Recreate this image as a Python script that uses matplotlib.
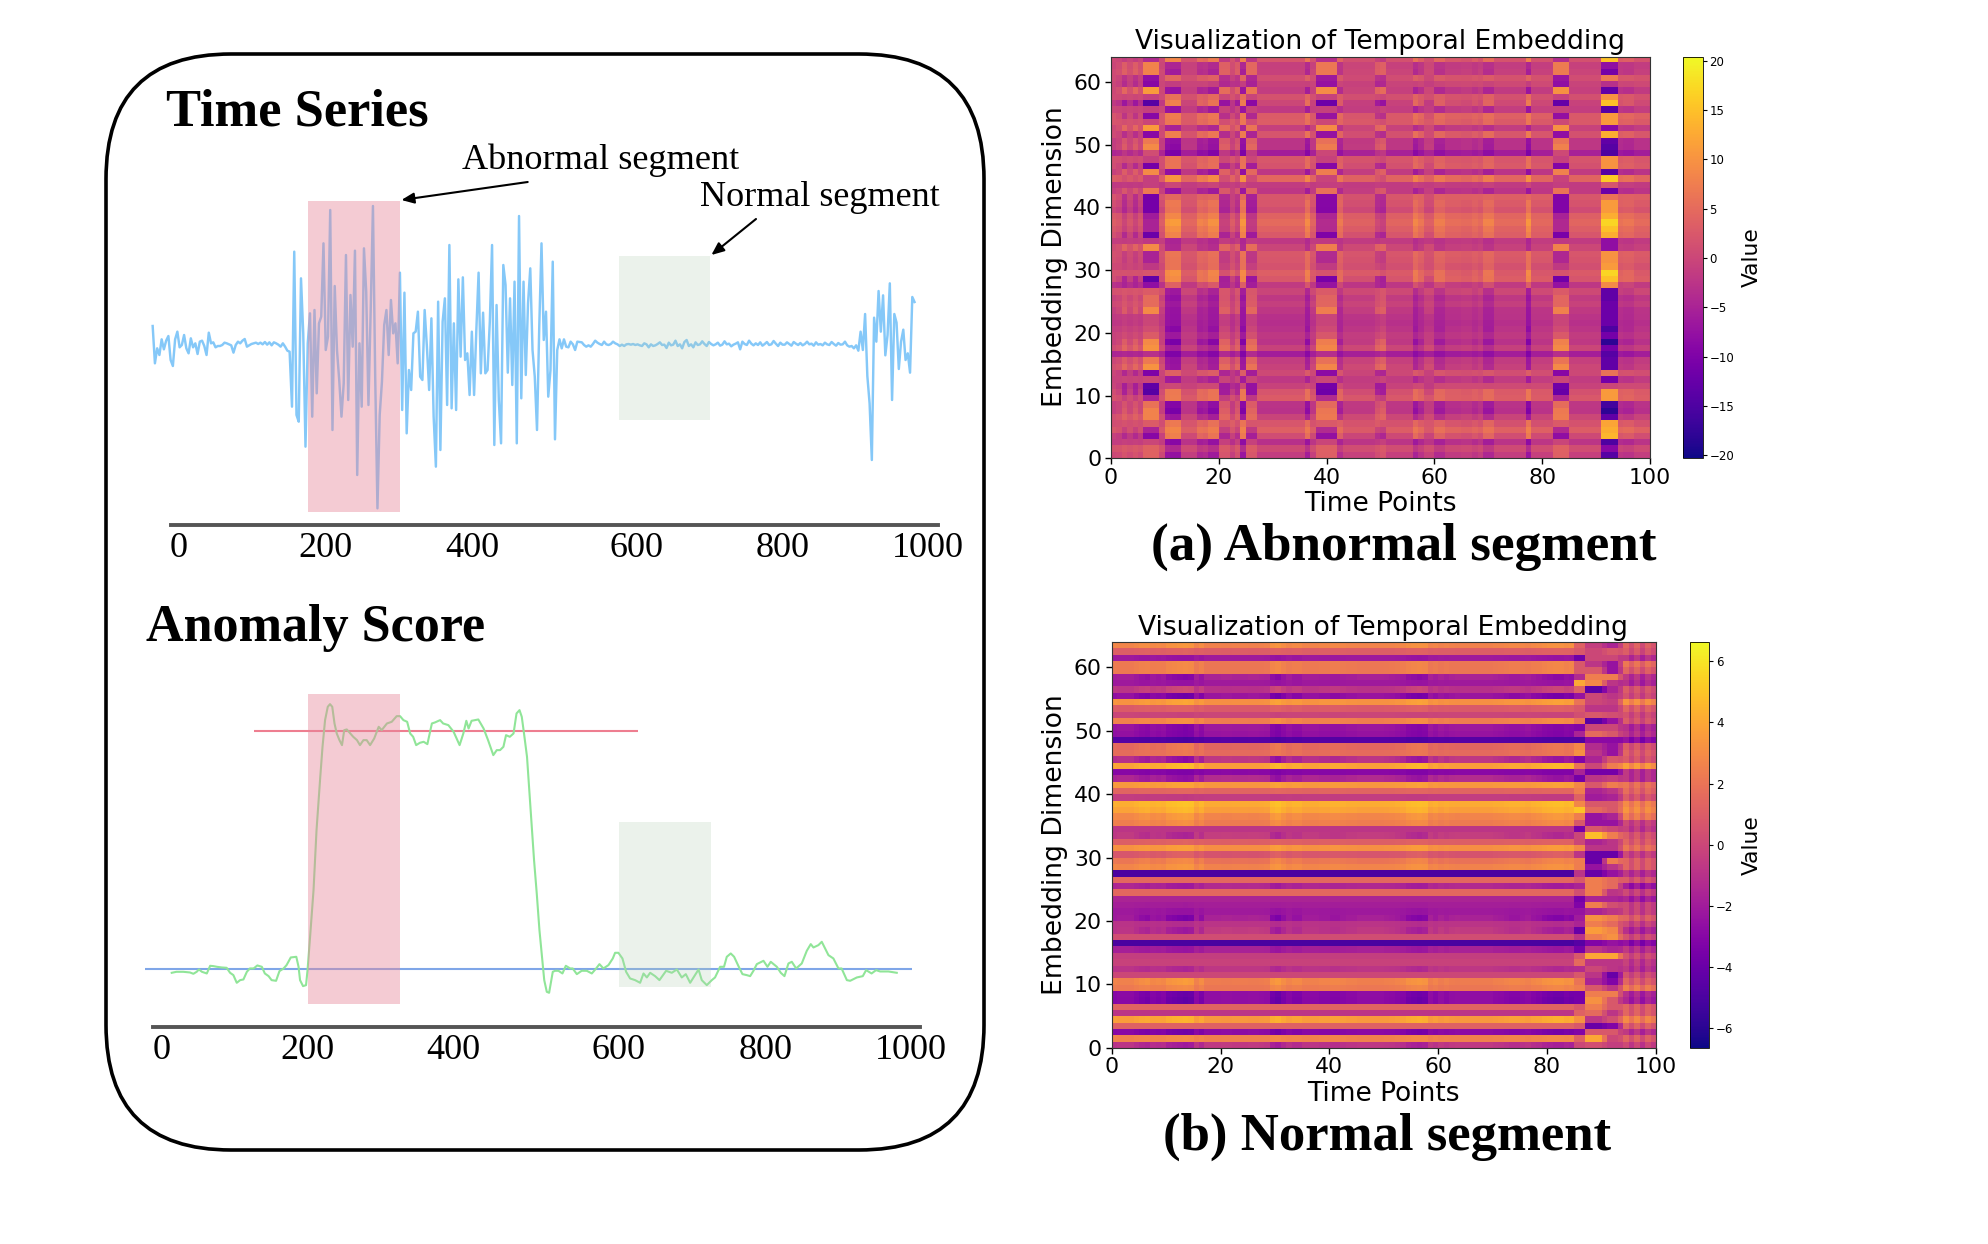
import numpy as np
import matplotlib
matplotlib.use("Agg")
import matplotlib.pyplot as plt
from matplotlib.patches import FancyBboxPatch, Rectangle

W, H = 1988, 1244
SERIF = "Liberation Serif"

# ---------- time series (arbitrary signal units) ----------
ts_quiet_start = [52,-60,-15,-35,12,-18,8,22,-50,-68,12,35,-12,-5,25,-15,-30,15,-12,0,-32,5,8,-8,-35,32,0,3,-12,-8,
                  -8,-5,2,0,-3,-6,-28,-5,5,0,8,13,-10,-6,-2,0,2,-2,2,-3,4,-4,3,-6,3,0,-4,-10,0,-10,-22,-25]
ts_burst_a = [-190,275,-215,-235,195,30,-310,0,90,-220,100,-150,60,80,300,-20,20,400,-260,172,-20,-110,-220,-120,265,
              -170,145,-10,278,-395,0,-190,285,155,-185,100,412,-100,-495,-215,-115,55,100,-35,130,30,60,-60]
ts_burst_b = [212,-200,152,-270,-80,-140,30,35,95,-100,-110,100,-10,-140,75,-220,-370,125,-320,65,135,-185,295,-195,60,
              -200,192,-40,198,-50,-30,-155,35,-155,40,212,-90,92,-90,-80,65,295,-305,115,-170,-300,235,175,-88,135,
              -125,185,-300,382,-165,185,-95,120,225,-20,-100,-260,50,300,10,95,-160,-80,245,-288,-20,12]
ts_quiet_mid = [-15,12,-10,-12,5,-3,-20,5,4,3,-5,-10,-6,-10,-2,8,2,-2,-5,5,-3,-5,-2,5,0,-3,-8,-4,-8,-3,
                -2,-4,-2,-5,-3,-6,-8,0,-3,-12,-3,-8,-6,-2,3,-5,-4,-14,2,-6,-4,8,-8,-3,-15,4,10,-8,-3,-12,
                3,-5,-3,6,-2,-8,4,-2,-6,-3,2,-7,-4,6,-3,-1,-9,-4,-1,3,-18,5,-2,-5,8,-1,-6,0,-5,3,
                -7,-2,4,-5,-3,7,-1,-8,2,-4,-4,3,-2,-7,4,-1,-5,1,-6,-2,5,-3,-1,-7,3,-4,-2,-6,2,-3,
                -5,4,-2,-7,1,-4,-3,5,-6,-10,-8,-15,-6,-22]
ts_burst_c = [35,-20,88,-98,-180,-350,77,5,157,35,144,-36,25,180,-170,88,62,-77,5,41,-50,-30,-88,139,124]

# ---------- anomaly score ----------
score_t = [13.7,20,29,38,42.6,47,50,54,60.5,65,69.4,74,80.5,87,91.6,96,100.5,105,109.4,114,118,123,128,134,138,143,147,
           153,157.5,163,167,172.6,180,183,185,189,193,195,198.4,203,207,212,215,218.4,222,225,228,231,234,237.6,241,
           244,247.4,252,256,261,265,269.6,274,278.5,284,290,294,301,307.4,314,318.5,323,328,332,336,340,345,350,355,
           361,365,372,376,383,390,394,398,403,407,410,414,423,430,436,443,447.6,452,456.5,460,465,470,474,478,481,484,
           488,491,494,497.4,501,504.6,508,511,514.4,517.5,522.4,525.5,530,535.3,539.8,545.6,549,554.5,561,567.8,574.5,
           580.3,584.7,590,596.7,602.5,605.6,610,615.4,620.3,625.6,632.3,639,643.5,648,652.4,659,664.8,673.7,681.3,688,
           694.6,700,705.8,717,721.3,728,734.7,739,745.8,751,754.7,760,764.5,770.3,775.6,781.4,785.9,790.3,794.8,803.7,
           809,813.4,821.5,826.8,831.7,837,841.5,847.3,854.8,861.5,866.8,870.4,877,881.5,886,890.4,897,903.8,908,915,
           919.4,928.3,936.3,940.7,948,954,959.4,970.5,981.6]
score_v = [-12,-9,-9,-11,-15,-9,-2,-9,-14,9,8,6,4,3,-12,-19,-42,-34,-32,-9,1,1,10,6,-14,-22,-34,-36,-7,1,11,34,36,6,-34,
           -52,-49,-4,96,236,416,576,666,746,786,794,786,736,706,686,671,716,718,706,696,686,671,686,686,671,691,726,
           716,736,741,758,758,746,741,706,696,671,678,681,674,736,739,746,736,731,711,691,671,706,744,721,744,748,721,
           686,641,656,656,666,701,696,706,766,776,756,706,636,536,436,326,226,116,36,-34,-69,-72,-9,-6,-6,-14,9,1,1,-16,
           -6,-6,-14,1,14,1,11,31,48,48,31,-9,-29,-34,-42,-14,-26,-12,-22,-34,-6,-12,-2,-26,-16,-42,-2,-34,-49,-34,-26,
           6,6,36,46,36,8,-16,-19,-22,-6,14,24,6,21,6,-12,-22,16,21,1,16,54,74,64,71,81,61,41,31,1,1,-34,-36,-26,-22,-4,
           -14,-4,-8,-8,-12]
tick_labels = ["0", "200", "400", "600", "800", "1000"]
ts_tick_pos = [0, 196, 391, 611, 806, 1000]      # the labels are hand-spaced in the reference
score_tick_pos = [0, 195, 390, 610, 806, 1000]
ts_abnormal = (172, 295)
ts_normal = (587.5, 709.6)
score_abnormal = (195.7, 318.6)
score_normal = (611, 733.8)
score_upper_level = 714
score_lower_level = 0

# ---------- heatmaps: per-row readings listed top row first, per-column weights read across.
# The cells are rebuilt from these readings, not typed one by one (a low-rank approximation of the picture).
a_bg = [.8,-.7,0,1.2,.8,-.7,.8,-.7,0,3,2.2,-.7,1.5,-2,-2,-5,1.5,2,-1.5,3.5,-2,-1.5,3.2,2.2,1,3.5,4,3,2.5,-1,0,2.2,1.8,.7,1.5,
        2.2,-2.5,1.5,-1,0,-1.8,-2,-2.5,-1.5,-1,-1.5,0,-5,-.4,.4,.7,-.7,.7,2.2,2.5,-1.5,-1.8,.7,.7,3,0,-1.5,1.5,0]
a_col92 = [15,-8,-11,7,-3,-13,10,15,-14,11,11,-9,13,-13,-14,-15,10,10,-14,16,2,-12,6,11,11,13,17,15,13,-8,-8,10,10,11,17,
           15,9,-13,-13,-12,-12,-12,-12,-15,-11,-18,-11,-14,-13,-13,6,-11,0,11,11,-16,-18,-13,12,13,14,-15,-9,-14]
a_col8 = [-4,8,8,-8,-9,11,-1,-14,-1,-9,0,11,-9,7,9,1,-1,-11,9,-1,-1,7,-11,-11,-11,-6,-5,-5,-12,-2,9,-5,-5,-2,2,-13,-8,3,5,
          5,9,0,0,1,3,9,10,-3,7,10,-10,0,-13,-14,-5,6,8,8,3,-5,-9,0,4,4]
a_w92 = [0,0,0,0,0,0,0,0,0,0,.5,.55,.55,.1,.1,.1,.32,.28,.45,.45,0,0,.16,0,.5,0,0,.12,.12,.12,.12,.12,.12,.12,.12,.12,
         .4,.08,0,0,0,0,.24,.08,.08,.08,.08,.08,.08,.08,0,.08,.08,.08,.08,.08,.36,.2,.08,.08,.28,.28,.12,.12,.12,.08,.08,.16,.08,.32,.32,
         .08,.08,.08,.08,.08,.08,.5,.06,.06,.06,.06,0,0,0,.08,.08,.08,.08,.08,.08,1,1,1,.16,.2,.2,.08,.08,.08]
a_w8 = [.08,.16,.45,.2,.45,.2,1,1,1,.08,0,0,0,.08,.08,.08,0,0,0,0,.5,.5,.32,.4,0,.6,.6,.08,.08,.08,.08,.08,.08,.08,.08,.08,0,.08,.85,
        .85,.85,.85,0,.12,.12,.12,.12,.12,.12,.5,.5,.08,.08,.08,.08,.08,0,0,.16,.16,0,0,0,0,0,0,0,0,0,0,0,0,0,0,0,0,0,0,0,0,0,
        0,.9,.9,.9,.08,.08,.08,.08,.08,.08,0,0,0,0,0,0,0,0,0]

b_bg = [2.5,1,-2,2,2,-1.4,-2,-1.2,-2,3,.8,0,2.3,-2,-2.2,-4.5,1.2,1.5,-.4,3.5,-2.8,-1,3.3,1.3,-.4,4,3.5,2.5,2.2,-.8,
        -.2,1,3,.5,1.8,2.5,-5,1.5,-1.2,1.5,-1.6,-1.8,-2,-1.4,-.8,-.3,.3,-5,-1.6,-.4,-.2,-.6,0,2.2,2,-2.4,-2.4,1.3,-.8,3.3,1.2,
        -2.6,2.5,-.4]
b_dev = [.8,.25,-.4,.8,.8,-1.4,-.4,1.2,-1.6,.8,.4,-.15,.8,-1.1,-1,-.4,1,.65,-2,1.1,-.4,-1.4,.5,.15,-.15,.8,1,1,.8,0,-1.2,.25,.65,
         .65,1,.8,0,0,-.8,0,0,-.15,-.4,-1.8,-.4,-1.6,0,0,-.65,0,0,-.8,0,1.2,.8,-1.4,-1.6,0,0,1,0,-1,.4,-1.4]
b_w = [.4,.3,.3,.3,.5,.7,.8,.5,.6,.5,.9,1,1.1,1.2,1.1,.3,.7,.15,.15,.15,.1,.1,.15,.15,.15,.1,.1,.15,.2,.9,1.1,.7,.4,.6,.6,
       .3,.3,.3,.4,.4,.5,.5,.4,.3,.3,.2,.2,.2,.2,.2,.25,.3,.4,.5,.8,.9,1,.9,.2,.4,.15,.3,.15,.1,.15,.15,.15,.15,.15,.15,
       .25,.3,.4,.5,.5,.4,.3,.5,.6,.8,.9,1,1,.8,.9]
b_col86 = [1.2,.8,-3.8,.8,.8,-1.2,4,1.2,-2.4,2,.8,.4,2,-3.2,-1.6,-4.8,2.8,3.2,-3.2,2,-1.6,-3.6,2.8,2.4,1.2,2.8,5,2.4,.8,-3.6,0,0,
           2.8,-.8,2.4,2.4,-.8,.8,-1.6,.4,-3.6,-3.2,-2.4,-2,-1.6,-4,-.8,-4.6,-3.6,.8,1.6,-1.2,.8,2,2.4,-3.6,-3.6,.8,1.2,3.2,.8,-3.2,1.2,0]
b_col89 = [-.4,0,0,-.8,.8,2.4,2.8,-4.5,0,0,-.8,.8,-4.5,0,1.6,-2.8,-1.2,-.8,-1.6,0,-3.6,-.8,.8,-1.6,-2,.8,1.6,-2.4,-2.4,.8,4.8,-1.6,-.8,
           -4,-4,-2.4,-4,2.4,2.4,2.4,-1.6,2.4,-1.6,3.2,2.4,3.6,2.4,-3.2,-.8,4,-.8,0,-.8,-1.6,.8,2.4,3.2,2.4,1.6,-.8,-4,.8,4,.4]
b_col92 = [-1.6,.8,0,-2.4,-2.4,2.4,-.8,-1.6,-.8,-.4,-.8,.4,-2.4,0,.8,-2.8,-2.4,-2.4,.8,2.4,-3.6,-.4,2.4,-.8,-1.6,.8,.8,-1.6,-2.4,0,2.4,
           -.8,-.8,-4,2.4,-.8,-2.4,1.6,1.6,-.8,-1.6,.4,-.8,2.4,1.6,2.8,3.2,-2.4,-1.6,4,-.8,-.8,-4,-3.2,-.8,2.4,.8,.8,-.8,.4,-3.2,.8,0,-.4]
b_col97 = [.8,.4,-1.2,1.6,.8,-1.2,-1.6,.4,0,2.8,.8,0,.4,-1.6,-1.2,-3,.4,.8,.4,3.2,-1.2,-1.2,1.6,1.2,.4,2.4,2.8,2,-.4,-.8,.4,.8,1.6,
           -.4,.8,.8,-1.2,.4,-2.4,-.4,-2,-.4,-.4,.8,-.4,-1.6,0,-3,-1.2,0,-.8,-1.2,0,.8,2,-1.6,-2,.8,.8,2.4,.8,-1.2,.8,-.4]

a_bg, a_col92, a_col8 = map(np.array, (a_bg, a_col92, a_col8))
w92, w8 = np.array(a_w92)[:100], np.array(a_w8)[:100]
mat_a = (a_bg[:, None] + np.outer(a_col92 - a_bg, w92) + np.outer(a_col8 - a_bg, w8))
bg, dev = np.array(b_bg), np.array(b_dev)
left = bg[:, None] + np.outer(dev, np.array(b_w))
c89, c92, c97 = np.array(b_col89), np.array(b_col92), np.array(b_col97)
mat_b = np.column_stack([left, *[np.array(b_col86)] * 2,
                         c89, c89, c89, (c89 + c92) / 2, c92, c92, (c92 + c97) / 2,
                         *[c97 + d for d in (.6, -.4, .5, -.6, .4, -.2, .5, .2)]])[:, :100]

# ---------- figure ----------
plt.rcParams["font.family"] = "DejaVu Sans"
fig = plt.figure(figsize=(W / 100, H / 100), dpi=100, facecolor="white")

def px_axes(x0, y0, x1, y1, **kw):
    return fig.add_axes([x0 / W, 1 - y1 / H, (x1 - x0) / W, (y1 - y0) / H], **kw)

ov = px_axes(0, 0, W, H, facecolor="none")
ov.set_xlim(0, W); ov.set_ylim(H, 0); ov.axis("off"); ov.set_zorder(5)
ov.add_patch(FancyBboxPatch((106 + 125, 54 + 125), 878 - 250, 1096 - 250,
                            boxstyle="round,pad=125,rounding_size=125", fc="none", ec="black", lw=2.6))

def panel(box, xlim, ylim, bounds, tick_pos):
    ax = px_axes(*box, facecolor="none")
    ax.set_xlim(*xlim); ax.set_ylim(*ylim)
    for s in ("top", "left", "right"):
        ax.spines[s].set_visible(False)
    ax.spines["bottom"].set_bounds(*bounds)
    ax.spines["bottom"].set_linewidth(2.8)
    ax.spines["bottom"].set_color("#555555")
    ax.set_yticks([])
    ax.set_xticks(tick_pos, tick_labels, fontfamily=SERIF, fontsize=26)
    ax.tick_params(axis="x", length=0, pad=5)
    return ax

# time series panel
ax1 = panel((149, 190, 943, 525), (-40, 1020), (-545, 460), (-10.4, 1013), ts_tick_pos)
seq = [(ts_quiet_start, -35.1, 147.7), (ts_burst_a, 150.9, 292), (ts_burst_b, 295, 508),
       (ts_quiet_mid, 511, 907), (ts_burst_c, 910, 982)]
tx = np.concatenate([np.linspace(a, b, len(v)) for v, a, b in seq])
ty = np.concatenate([np.array(v, float) for v, a, b in seq])
ax1.plot(tx, ty, color="#85C8F8", lw=1.75, zorder=2)
ax1.add_patch(Rectangle((ts_abnormal[0], -505), ts_abnormal[1] - ts_abnormal[0], 932,
                        fc=(230/255, 135/255, 155/255), alpha=.43, ec="none", zorder=3))
ax1.add_patch(Rectangle((ts_normal[0], -230), ts_normal[1] - ts_normal[0], 492,
                        fc=(179/255, 207/255, 179/255), alpha=.25, ec="none", zorder=3))

# anomaly score panel
ax2 = panel((139, 690, 933, 1027), (-30, 1030), (-174.6, 836.4), (-11.5, 1012.5), score_tick_pos)
ax2.hlines(score_upper_level, 123.4, 636, color="#EE7E90", lw=1.5, zorder=2)
ax2.hlines(score_lower_level, -22, 1002, color="#7FA6E8", lw=1.5, zorder=2)
ax2.plot(score_t, score_v, color="#90E598", lw=1.5, zorder=2)
ax2.add_patch(Rectangle((score_abnormal[0], -106), score_abnormal[1] - score_abnormal[0], 930,
                        fc=(230/255, 135/255, 155/255), alpha=.43, ec="none", zorder=3))
ax2.add_patch(Rectangle((score_normal[0], -54), score_normal[1] - score_normal[0], 495,
                        fc=(179/255, 207/255, 179/255), alpha=.25, ec="none", zorder=3))

# text and arrows on the overlay
def stext(x, y, s, size, bold=False, ha="left"):
    ov.text(x, y, s, fontfamily=SERIF, fontsize=size, fontweight="bold" if bold else "normal",
            ha=ha, va="baseline", color="black")
stext(166, 125, "Time Series", 37.8, True)
stext(146, 640.5, "Anomaly Score", 37.5, True)
stext(461.6, 169, "Abnormal segment", 26.1)
stext(700, 205.5, "Normal segment", 26)
stext(1404, 559.5, "(a) Abnormal segment", 38.3, True, "center")
stext(1387, 1149.5, "(b) Normal segment", 38, True, "center")
for start, end in (((527.7, 182), (401.4, 200)), ((756, 219), (711.4, 255))):
    ov.annotate("", xy=end, xytext=start,
                arrowprops=dict(arrowstyle="-|>,head_length=0.75,head_width=0.32", color="black", lw=1.5,
                                shrinkA=0, shrinkB=0))

# heatmaps
def heat(mat, box, cbox, lim, cticks, title_xy, xlabel_xy, ylabel_xy, value_xy):
    ax = px_axes(*box)
    im = ax.imshow(mat, cmap="plasma", vmin=lim[0], vmax=lim[1], aspect="auto",
                   extent=(0, 100, 0, 64), origin="upper", interpolation="nearest")
    ax.set_xticks(range(0, 101, 20)); ax.set_yticks(range(0, 61, 10))
    ax.tick_params(labelsize=15.8, length=4, width=1, pad=3)
    for s in ax.spines.values():
        s.set_color("#333333")
    cax = px_axes(*cbox)
    cb = fig.colorbar(im, cax=cax)
    cb.set_ticks(cticks)
    cb.ax.tick_params(labelsize=8.5, length=3, width=.8, pad=2)
    cb.outline.set_linewidth(.6)
    ov.text(*title_xy, "Visualization of Temporal Embedding", fontsize=19.1, ha="center", va="baseline")
    ov.text(*xlabel_xy, "Time Points", fontsize=19, ha="center", va="center")
    ov.text(*ylabel_xy, "Embedding Dimension", fontsize=19.2, ha="center", va="center", rotation=90)
    ov.text(*value_xy, "Value", fontsize=15.7, ha="center", va="center", rotation=90)

heat(mat_a, (1111, 56.7, 1650, 458.3), (1683, 56.7, 1702.6, 458.3), (-20.3, 20.4),
     [-20, -15, -10, -5, 0, 5, 10, 15, 20], (1380, 48.6), (1380, 503.6), (1055, 257), (1752, 257.5))
heat(mat_b, (1111.7, 642, 1655.7, 1047.7), (1689.7, 642, 1709, 1047.7), (-6.63, 6.63),
     [-6, -4, -2, 0, 2, 4, 6], (1383, 635), (1383, 1093.6), (1055, 844.6), (1752, 845))

fig.savefig("out.png", dpi=100, facecolor="white")
